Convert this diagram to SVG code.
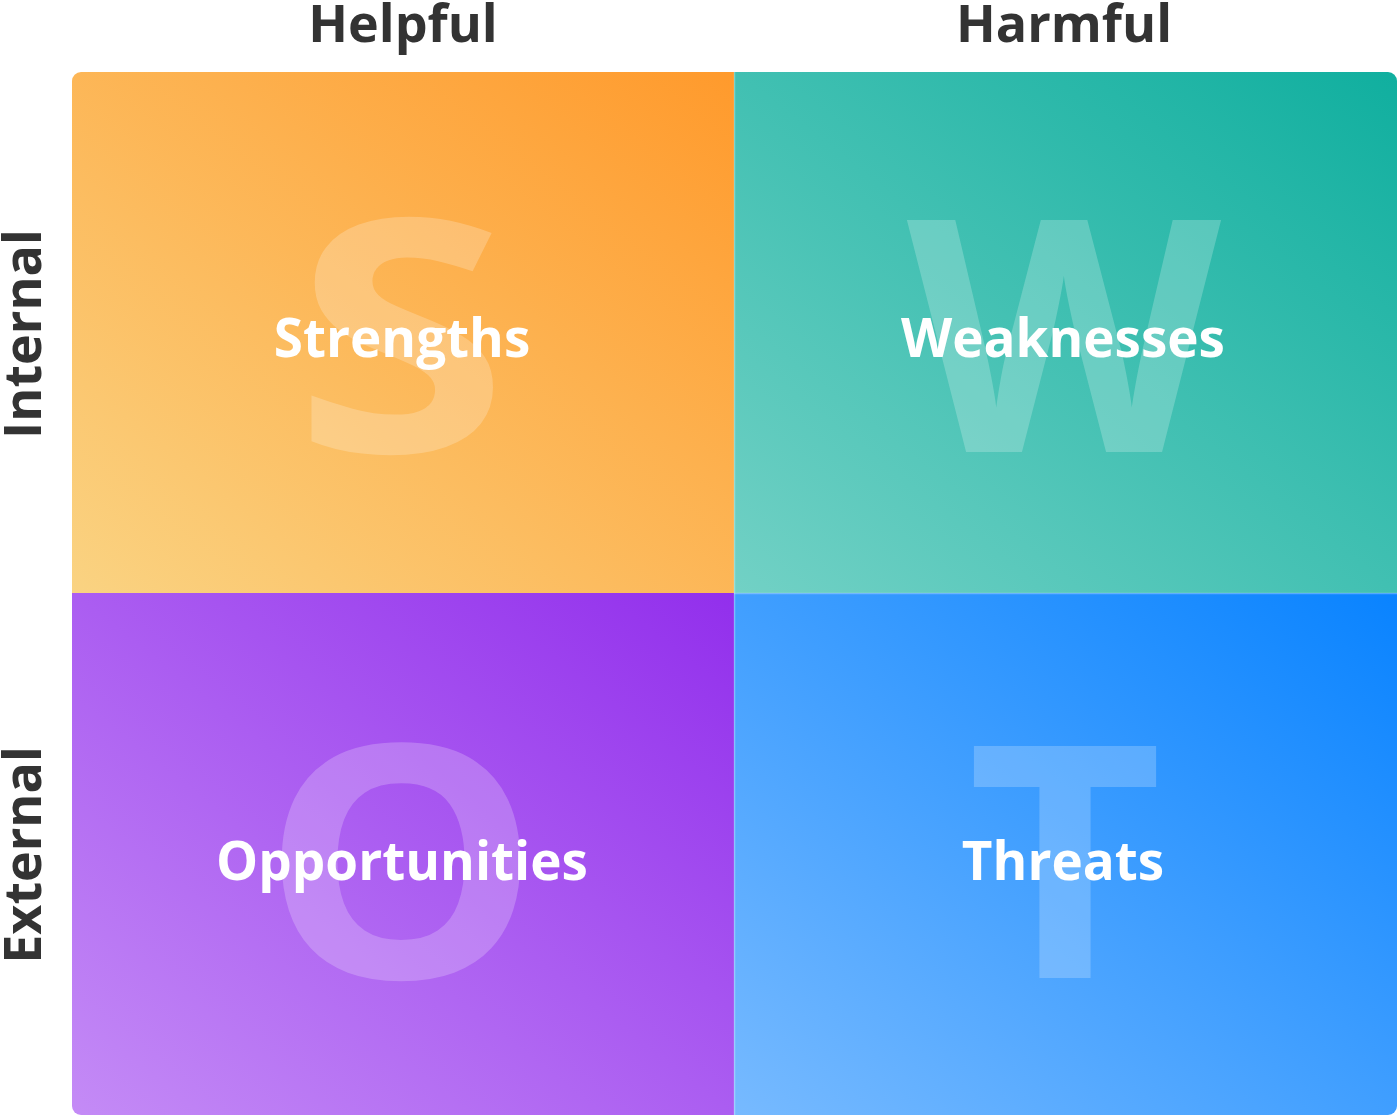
<svg xmlns="http://www.w3.org/2000/svg" width="1398" height="1116" viewBox="0 0 1398 1116">
  <style>
    .axis { font-family: "Open Sans", "Liberation Sans", sans-serif; font-weight: 700; font-size: 52px; fill: #333333; text-anchor: middle; }
    .big { font-family: "Open Sans", "Liberation Sans", sans-serif; font-weight: 700; font-size: 325px; fill: #ffffff; fill-opacity: 0.22; text-anchor: middle; }
    .label { font-family: "Open Sans", "Liberation Sans", sans-serif; font-weight: 700; font-size: 53px; fill: #ffffff; text-anchor: middle; }
    .divider { stroke: #ffffff; stroke-opacity: 0.3; stroke-width: 1.5; }
  </style>
  <defs>
    <clipPath id="grid-clip">
      <rect x="72" y="72" width="1325" height="1043" rx="9" ry="9"/>
    </clipPath>
    <linearGradient id="g-s" x1="0" y1="1" x2="1" y2="0">
      <stop offset="0" stop-color="#FAD382"/>
      <stop offset="1" stop-color="#FF9A2C"/>
    </linearGradient>
    <linearGradient id="g-w" x1="0" y1="1" x2="1" y2="0">
      <stop offset="0" stop-color="#72D1C5"/>
      <stop offset="1" stop-color="#10AF9F"/>
    </linearGradient>
    <linearGradient id="g-o" x1="0" y1="1" x2="1" y2="0">
      <stop offset="0" stop-color="#C48BF6"/>
      <stop offset="1" stop-color="#922FEC"/>
    </linearGradient>
    <linearGradient id="g-t" x1="0" y1="1" x2="1" y2="0">
      <stop offset="0" stop-color="#77BAFF"/>
      <stop offset="1" stop-color="#0983FF"/>
    </linearGradient>
  </defs>

  <g id="axis-labels">
    <text class="axis" x="403" y="42">Helpful</text>
    <text class="axis" x="1064" y="42">Harmful</text>
    <text class="axis" transform="translate(41,334) rotate(-90)">Internal</text>
    <text class="axis" transform="translate(41,855) rotate(-90)">External</text>
  </g>

  <g clip-path="url(#grid-clip)">
    <g id="strengths">
      <rect x="72" y="72" width="662" height="521" fill="url(#g-s)"/>
      <text class="big" transform="translate(401,452) scale(1.2,1)">S</text>
      <text class="label" x="402" y="357">Strengths</text>
    </g>
    <g id="weaknesses">
      <rect x="734" y="72" width="663" height="521" fill="url(#g-w)"/>
      <text class="big" x="1064" y="452">W</text>
      <text class="label" x="1063" y="357">Weaknesses</text>
    </g>
    <g id="opportunities">
      <rect x="72" y="593" width="662" height="522" fill="url(#g-o)"/>
      <text class="big" transform="translate(401,978) scale(1.08,1)">O</text>
      <text class="label" x="402" y="880">Opportunities</text>
    </g>
    <g id="threats">
      <rect x="734" y="593" width="663" height="522" fill="url(#g-t)"/>
      <text class="big" transform="translate(1065,978) scale(1.04,1)">T</text>
      <text class="label" x="1063" y="880">Threats</text>
    </g>
    <g id="connectors">
      <line class="divider" x1="734.5" y1="72" x2="734.5" y2="1115"/>
      <line class="divider" x1="734" y1="593.5" x2="1397" y2="593.5"/>
    </g>
  </g>
</svg>
